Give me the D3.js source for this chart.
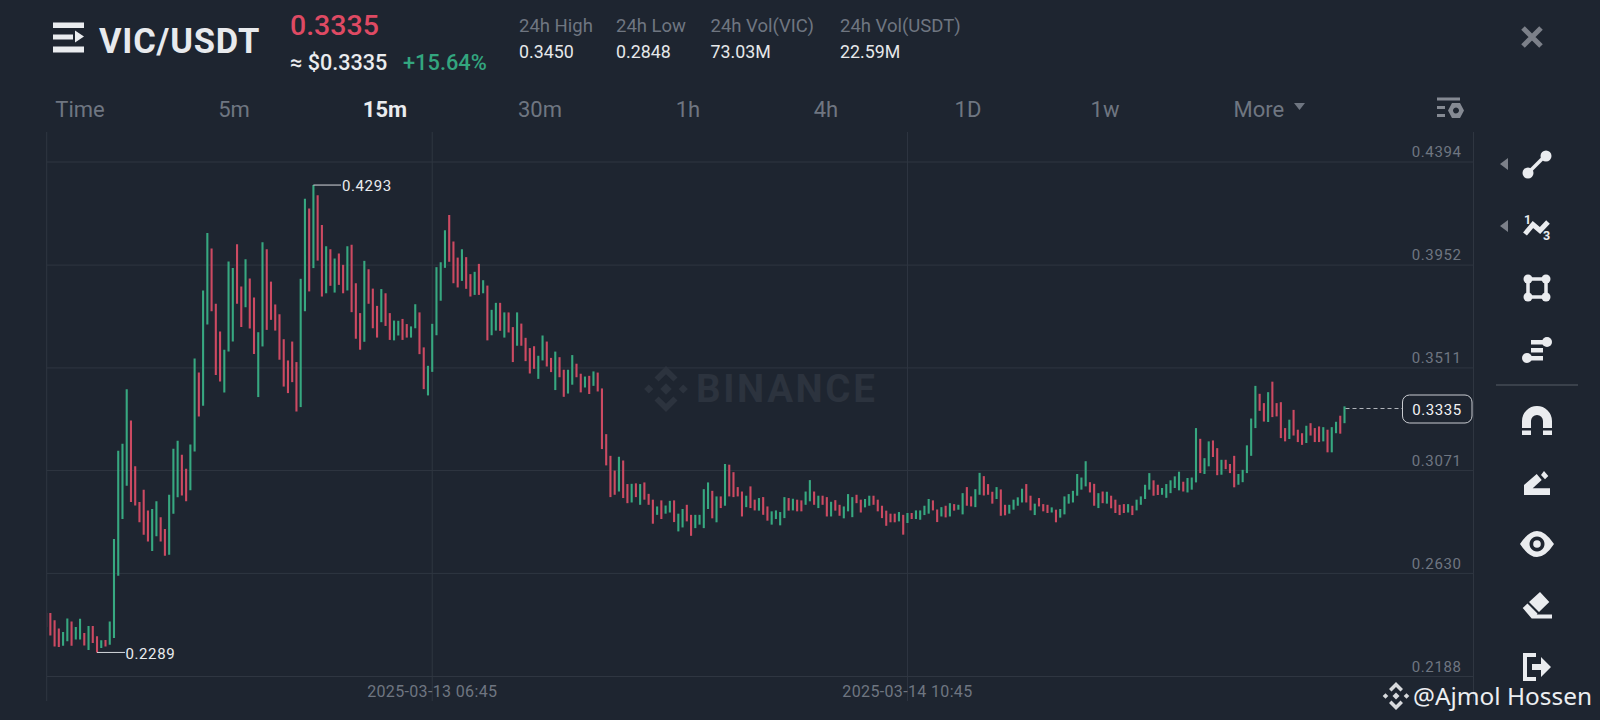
<!DOCTYPE html>
<html>
<head>
<meta charset="utf-8">
<title>VIC/USDT</title>
<script src="https://cdn.jsdelivr.net/npm/d3@7"></script>
<style>
  html, body { margin: 0; padding: 0; background: #1e2530; }
  svg { display: block; }
  text { font-family: "Roboto", sans-serif; }
</style>
</head>
<body>
<div id="chart"></div>
<script>
const priceTicks = [0.4394, 0.3952, 0.3511, 0.3071, 0.2630, 0.2188];
const dateTicks = [91, 203];
const dateLabels = ["2025-03-13 06:45", "2025-03-14 10:45"];
const timeTabs = ["Time", "5m", "15m", "30m", "1h", "4h", "1D", "1w"];
const statNames = ["24h High", "24h Low", "24h Vol(VIC)", "24h Vol(USDT)"];
const statValues = ["0.3450", "0.2848", "73.03M", "22.59M"];
const lastPrice = 0.3335;
const maxPrice = 0.4293;
const minPrice = 0.2289;

// one letter per 15m candle, G closes up, R closes down
const candleDirs = ("RRRRGGRGGR" + "GRRGRGGGGG" + "RRRRRGGRRG" + "GGRRGGRGGR" + "RRGGGRRGRR" +
  "GGRRRRRRRR" + "GGRGRRGRGR" + "RGRRRGRRRG" + "RRGGRRGGRR" + "GGGGGRRRGR" +
  "RGRGRGGRGR" + "RGRRRRGGRR" + "GRRGGRRGRG" + "RRRRRGRRGR" + "GRRRGRGGRG" +
  "GRRGGGGRGR" + "GRRRRGRRGR" + "RGGGGRGRRG" + "GRGRRGRRGG" + "GRRGGRRRRR" +
  "RGRGRGGGGR" + "RGRGRGGRRG" + "GRRRGRRGGG" + "GRRGRRRGRG" + "GGGGGGRRGR" +
  "GRRRRGRGGG" + "GRRGGGGGRG" + "GGRGGRRGRR" + "RGGGGGRRGR" + "RRRGRRRGRR" + "RGRGGRG").split("");

const candleHighs = [
  0.2458,0.2458,0.2427,0.2392,0.2377,0.2435,0.2422,0.2398,0.2434,0.2372,
  0.2402,0.2402,0.2358,0.2341,0.2342,0.2422,0.2775,0.3154,0.3184,0.3418,
  0.3284,0.3087,0.2934,0.2987,0.2898,0.2904,0.2937,0.2869,0.2818,0.2965,
  0.3162,0.3197,0.3137,0.3077,0.3181,0.3549,0.3489,0.3841,0.4087,0.4021,
  0.3784,0.3665,0.3587,0.3965,0.3937,0.4039,0.3858,0.3975,0.3892,0.3811,
  0.3662,0.4048,0.4018,0.3879,0.3781,0.3739,0.3632,0.3541,0.3622,0.3534,
  0.3891,0.4234,0.4192,0.4293,0.4249,0.4122,0.4031,0.4018,0.3978,0.3999,
  0.3951,0.4031,0.4037,0.3872,0.3744,0.3968,0.3932,0.3849,0.3775,0.3847,
  0.3829,0.3744,0.3712,0.3711,0.3719,0.3697,0.3687,0.3782,0.3747,0.3597,
  0.3518,0.3698,0.3941,0.3962,0.4099,0.4165,0.4051,0.3982,0.4018,0.3984,
  0.3911,0.3921,0.3955,0.3885,0.3862,0.3758,0.3788,0.3788,0.3747,0.3747,
  0.3684,0.3747,0.3699,0.3638,0.3594,0.3602,0.3561,0.3648,0.3622,0.3552,
  0.3579,0.3555,0.3501,0.3501,0.3564,0.3527,0.3484,0.3472,0.3475,0.3494,
  0.3489,0.3421,0.3225,0.3132,0.3069,0.3128,0.3112,0.3011,0.3012,0.3014,
  0.3011,0.3018,0.2969,0.2944,0.2915,0.2941,0.2919,0.2939,0.2941,0.2884,
  0.2904,0.2922,0.2879,0.2879,0.2879,0.2989,0.3018,0.2982,0.2958,0.2958,
  0.3097,0.3094,0.3062,0.2998,0.2979,0.2961,0.3001,0.2944,0.2951,0.2955,
  0.2915,0.2894,0.2898,0.2891,0.2955,0.2951,0.2948,0.2944,0.2941,0.2979,
  0.3028,0.2979,0.2961,0.2961,0.2955,0.2935,0.2942,0.2922,0.2915,0.2968,
  0.2955,0.2965,0.2944,0.2947,0.2961,0.2961,0.2944,0.2918,0.2897,0.2884,
  0.2884,0.2891,0.2879,0.2887,0.2887,0.2898,0.2898,0.2918,0.2947,0.2941,
  0.2902,0.2912,0.2918,0.2929,0.2925,0.2922,0.2972,0.2998,0.2958,0.2989,
  0.3059,0.3045,0.3011,0.2978,0.2998,0.2988,0.2922,0.2922,0.2944,0.2954,
  0.2991,0.3011,0.2961,0.2927,0.2951,0.2925,0.2922,0.2911,0.2901,0.2904,
  0.2958,0.2968,0.2982,0.3054,0.3039,0.3109,0.3019,0.3012,0.2972,0.2979,
  0.2978,0.2961,0.2944,0.2922,0.2925,0.2925,0.2918,0.2944,0.2958,0.3008,
  0.3058,0.3027,0.3008,0.2994,0.3011,0.3027,0.3044,0.3064,0.3021,0.3037,
  0.3039,0.3251,0.3205,0.3122,0.3194,0.3198,0.3165,0.3115,0.3115,0.3097,
  0.3132,0.3054,0.3072,0.3177,0.3292,0.3432,0.3398,0.3358,0.3405,0.3450,
  0.3358,0.3362,0.3251,0.3287,0.3329,0.3244,0.3229,0.3261,0.3272,0.3251,
  0.3258,0.3255,0.3244,0.3255,0.3278,0.3304,0.3344
];

const candleLows = [
  0.2398,0.2362,0.2315,0.2312,0.2318,0.2337,0.2318,0.2344,0.2344,0.2319,
  0.2299,0.2329,0.2289,0.2308,0.2315,0.2322,0.2351,0.2618,0.2861,0.3004,
  0.2934,0.2919,0.2847,0.2794,0.2765,0.2724,0.2787,0.2765,0.2704,0.2708,
  0.2884,0.2954,0.2962,0.2937,0.2984,0.3151,0.3301,0.3347,0.3695,0.3752,
  0.3479,0.3451,0.3404,0.3579,0.3622,0.3784,0.3684,0.3769,0.3678,0.3569,
  0.3384,0.3601,0.3672,0.3715,0.3669,0.3544,0.3429,0.3401,0.3448,0.3322,
  0.3341,0.3752,0.3837,0.3937,0.3969,0.3815,0.3829,0.3861,0.3832,0.3865,
  0.3829,0.3841,0.3748,0.3634,0.3587,0.3621,0.3784,0.3679,0.3639,0.3705,
  0.3689,0.3629,0.3627,0.3648,0.3629,0.3639,0.3639,0.3679,0.3568,0.3418,
  0.3391,0.3492,0.3649,0.3797,0.3938,0.3964,0.3872,0.3854,0.3882,0.3848,
  0.3815,0.3822,0.3822,0.3829,0.3627,0.3649,0.3669,0.3668,0.3639,0.3661,
  0.3534,0.3604,0.3604,0.3538,0.3485,0.3505,0.3462,0.3541,0.3515,0.3491,
  0.3414,0.3469,0.3385,0.3399,0.3437,0.3469,0.3404,0.3425,0.3397,0.3432,
  0.3408,0.3161,0.3091,0.2955,0.2965,0.2979,0.2951,0.2929,0.2932,0.2955,
  0.2922,0.2944,0.2922,0.2841,0.2879,0.2861,0.2884,0.2889,0.2848,0.2808,
  0.2825,0.2851,0.2789,0.2822,0.2837,0.2822,0.2904,0.2864,0.2847,0.2908,
  0.2918,0.2958,0.2955,0.2958,0.2872,0.2912,0.2908,0.2898,0.2897,0.2879,
  0.2854,0.2837,0.2861,0.2834,0.2865,0.2897,0.2898,0.2894,0.2894,0.2922,
  0.2937,0.2922,0.2908,0.2922,0.2872,0.2872,0.2897,0.2875,0.2864,0.2894,
  0.2869,0.2929,0.2889,0.2911,0.2918,0.2922,0.2894,0.2865,0.2832,0.2847,
  0.2847,0.2851,0.2794,0.2844,0.2861,0.2861,0.2858,0.2878,0.2884,0.2898,
  0.2848,0.2872,0.2868,0.2872,0.2897,0.2901,0.2881,0.2918,0.2915,0.2912,
  0.2965,0.2962,0.2965,0.2927,0.2947,0.2875,0.2877,0.2884,0.2901,0.2918,
  0.2932,0.2932,0.2898,0.2878,0.2915,0.2894,0.2887,0.2889,0.2847,0.2867,
  0.2881,0.2927,0.2932,0.2961,0.2987,0.3001,0.2975,0.2918,0.2908,0.2929,
  0.2927,0.2907,0.2887,0.2878,0.2887,0.2889,0.2878,0.2898,0.2922,0.2947,
  0.2987,0.2961,0.2964,0.2965,0.2952,0.2972,0.2994,0.2984,0.2979,0.2975,
  0.2987,0.3018,0.3058,0.3054,0.3087,0.3127,0.3049,0.3051,0.3075,0.3058,
  0.2997,0.3008,0.3019,0.3058,0.3132,0.3251,0.3325,0.3279,0.3277,0.3298,
  0.3301,0.3208,0.3194,0.3204,0.3219,0.3191,0.3179,0.3187,0.3219,0.3191,
  0.3191,0.3194,0.3147,0.3147,0.3229,0.3227,0.3272
];

const bg = "#1e2530";
const gridColor = "#2f3641";
const up = "#37a880";
const down = "#cc4a62";
const muted = "#6f7681";
const iconColor = "#eaecef";

const width = 1600, height = 720;
const left = 46.7, right = 1473.5;

const svg = d3.select("#chart").append("svg")
  .attr("width", width)
  .attr("height", height);

svg.append("rect").attr("width", width).attr("height", height).attr("fill", bg);

const x = d3.scaleLinear().domain([0, 306]).range([46.1, 1344.5]);
const y = d3.scaleLinear().domain([0.2188, 0.4394]).range([676, 161.5]);

// chart frame
svg.append("line").attr("x1", left).attr("x2", left).attr("y1", 132).attr("y2", 701).attr("stroke", gridColor);
svg.append("line").attr("x1", right).attr("x2", right).attr("y1", 132).attr("y2", 701).attr("stroke", gridColor);

// date axis, ticks run up as the vertical grid
const xAxis = d3.axisBottom(x)
  .tickValues(dateTicks)
  .tickSize(-569)
  .tickPadding(8)
  .offset(0)
  .tickFormat((d, i) => dateLabels[i]);
const gx = svg.append("g").attr("transform", "translate(0,701)").call(xAxis);
gx.select(".domain").remove();
gx.selectAll(".tick line").attr("stroke", gridColor);
gx.selectAll("text").attr("fill", muted).style("font-size", "16px").style("letter-spacing", "0.35px").attr("dy", 0).attr("y", -4);

// price axis
const yAxis = d3.axisRight(y)
  .tickValues(priceTicks)
  .tickSize(0)
  .tickFormat(d3.format(".4f"));
const gy = svg.append("g").attr("transform", `translate(${right},0)`).call(yAxis);
gy.select(".domain").remove();
gy.selectAll(".tick line")
  .attr("x1", left - right)
  .attr("x2", 0)
  .attr("stroke", gridColor);
gy.selectAll("text")
  .attr("x", -12)
  .attr("y", -9.5)
  .attr("text-anchor", "end")
  .attr("fill", muted)
  .style("font-size", "15px")
  .style("letter-spacing", "0.6px");

// watermark
const wm = svg.append("g").attr("fill", "#2c333e");
wm.append("text").attr("x", 696).attr("y", 402).attr("font-size", 38.5).attr("font-weight", 700).attr("letter-spacing", 2.6).text("BINANCE");
binanceMark(wm, 666, 389, 23);

// candles
svg.append("clipPath").attr("id", "plot").append("rect")
  .attr("x", left + 0.5).attr("y", 132).attr("width", right - left).attr("height", 569);

svg.append("g")
  .attr("clip-path", "url(#plot)")
  .selectAll("line")
  .data(candleDirs)
  .join("line")
  .attr("x1", (d, i) => x(i))
  .attr("x2", (d, i) => x(i))
  .attr("y1", (d, i) => y(candleHighs[i]))
  .attr("y2", (d, i) => y(candleLows[i]))
  .attr("stroke", d => d === "G" ? up : down)
  .attr("stroke-width", 2.1);

// max and min markers
const maxI = candleHighs.indexOf(maxPrice);
const minI = candleLows.indexOf(minPrice);
svg.append("path")
  .attr("d", `M${x(maxI)},${y(maxPrice)}H341`)
  .attr("stroke", "#d5d8dc").attr("fill", "none");
svg.append("text").attr("x", 342).attr("y", y(maxPrice) + 1).attr("dy", "0.36em")
  .attr("fill", "#eaecef").style("font-size", "15px").style("letter-spacing", "0.6px").text(maxPrice.toFixed(4));
svg.append("path")
  .attr("d", `M${x(minI)},${y(minPrice)}H125`)
  .attr("stroke", "#d5d8dc").attr("fill", "none");
svg.append("text").attr("x", 125.5).attr("y", y(minPrice) + 1.5).attr("dy", "0.36em")
  .attr("fill", "#eaecef").style("font-size", "15px").style("letter-spacing", "0.6px").text(minPrice.toFixed(4));

// last price line and tag
svg.append("line")
  .attr("x1", x(306) + 1).attr("x2", 1402)
  .attr("y1", y(lastPrice)).attr("y2", y(lastPrice))
  .attr("stroke", "#b0b4ba").attr("stroke-width", 1.2).attr("stroke-dasharray", "4,3");
svg.append("rect")
  .attr("x", 1402.5).attr("y", 395).attr("width", 69.5).attr("height", 28).attr("rx", 7)
  .attr("fill", bg).attr("stroke", "#c9ccd1");
svg.append("text").attr("x", 1437).attr("y", 410).attr("dy", "0.36em").attr("text-anchor", "middle")
  .attr("fill", "#f2f3f5").style("font-size", "15px").style("letter-spacing", "0.6px").text(lastPrice.toFixed(4));

// header
const header = svg.append("g");
header.append("text").attr("x", 99).attr("y", 52.5).attr("fill", "#e8eaed")
  .attr("font-size", 34.5).attr("font-weight", 700).attr("letter-spacing", 0.8).text("VIC/USDT");
header.append("text").attr("x", 290).attr("y", 35).attr("fill", "#df4a63")
  .attr("font-size", 28.5).attr("font-weight", 500).text("0.3335");
header.append("text").attr("x", 290).attr("y", 70).attr("fill", "#eaecef")
  .attr("font-size", 21.6).attr("font-weight", 500).text("≈ $0.3335");
header.append("text").attr("x", 403).attr("y", 70).attr("fill", "#33a67f")
  .attr("font-size", 21.8).attr("font-weight", 500).text("+15.64%");

const statX = [519, 616, 710.5, 840];
statNames.forEach((name, i) => {
  header.append("text").attr("x", statX[i]).attr("y", 32).attr("fill", muted).attr("font-size", 18.5).text(name);
  header.append("text").attr("x", statX[i]).attr("y", 58).attr("fill", "#e6e8ea").attr("font-size", 17.8).text(statValues[i]);
});

// symbol list icon
header.append("path").attr("fill", iconColor)
  .attr("d", "M53,22.5h31v5.5h-31z M53,34.5h20v5h-20z M53,46.5h31v6h-31z M75,30.5l9,6l-9,6z");

// interval tabs
const tabX = [80, 234, 385, 540, 688, 826, 968, 1105];
timeTabs.forEach((t, i) => {
  const active = t === "15m";
  header.append("text").attr("x", tabX[i]).attr("y", 117).attr("text-anchor", "middle")
    .attr("fill", active ? "#eaecef" : muted)
    .attr("font-size", 22).attr("font-weight", active ? 700 : 400)
    .text(t);
});
header.append("text").attr("x", 1233.5).attr("y", 117).attr("fill", muted).attr("font-size", 22).text("More");
header.append("path").attr("fill", muted).attr("d", "M1294,103h11l-5.5,7z");

// settings and close
const settings = svg.append("g").attr("fill", "#858a93");
settings.append("path").attr("d", "M1437,97.5h23v3h-23z M1437,106h8v3h-8z M1437,114h8v3h-8z");
settings.append("path").attr("fill-rule", "evenodd")
  .attr("d", "M1452,103h8l4,7.5l-4,7.5h-8l-4,-7.5z M1456,107.5a3,3 0 1,0 0.01,0z");
svg.append("path").attr("d", "M1523,28L1541,46M1541,28L1523,46")
  .attr("stroke", "#7c8089").attr("stroke-width", 5).attr("fill", "none");

// drawing tools
const tools = svg.append("g");
tools.append("path").attr("fill", "#7c8089").attr("d", "M1500,164l8,-6v12z M1500,226l8,-6v12z");
tools.append("line").attr("x1", 1496).attr("x2", 1578).attr("y1", 385).attr("y2", 385).attr("stroke", "#454b55").attr("stroke-width", 1.5);

// trend line
tools.append("path").attr("stroke", iconColor).attr("stroke-width", 3.5).attr("d", "M1528,173L1546,155");
tools.append("circle").attr("cx", 1528).attr("cy", 173).attr("r", 5.5).attr("fill", iconColor);
tools.append("circle").attr("cx", 1546).attr("cy", 156).attr("r", 5.5).attr("fill", iconColor);

// numbered zigzag
tools.append("path").attr("stroke", iconColor).attr("stroke-width", 5).attr("fill", "none").attr("d", "M1525,234L1533,224.5L1540,230.5L1548,222");
tools.append("text").attr("x", 1524).attr("y", 224).attr("fill", iconColor).attr("font-size", 12.5).attr("font-weight", 700).text("1");
tools.append("text").attr("x", 1543).attr("y", 239.5).attr("fill", iconColor).attr("font-size", 12.5).attr("font-weight", 700).text("3");

// box
tools.append("rect").attr("x", 1528).attr("y", 279).attr("width", 18).attr("height", 18).attr("fill", "none").attr("stroke", iconColor).attr("stroke-width", 3.5);
[[1528, 279], [1546, 279], [1528, 297], [1546, 297]].forEach(p => {
  tools.append("circle").attr("cx", p[0]).attr("cy", p[1]).attr("r", 4.5).attr("fill", iconColor);
});

// fib lines
tools.append("path").attr("fill", iconColor).attr("d", "M1531,340h16v4.5h-16z M1531,348h12v4.5h-12z M1531,356h12v4.5h-12z");
tools.append("circle").attr("cx", 1547).attr("cy", 342).attr("r", 5).attr("fill", iconColor);
tools.append("circle").attr("cx", 1527).attr("cy", 358).attr("r", 5).attr("fill", iconColor);

// magnet
tools.append("path").attr("fill", "none").attr("stroke", iconColor).attr("stroke-width", 9).attr("d", "M1526.5,428v-7a10.5,10.5 0 0,1 21,0v7");
tools.append("path").attr("fill", iconColor).attr("d", "M1522,430.5h9v4.5h-9z M1543,430.5h9v4.5h-9z");

// pencil
tools.append("path").attr("fill", iconColor).attr("d", "M1524,485L1536.7,474L1541.7,480L1532.7,488.3H1550V495H1524z M1541,475L1544,471L1548.3,476L1545,479.3z");

// eye
tools.append("path").attr("fill", iconColor).attr("fill-rule", "evenodd")
  .attr("d", "M1520,544q17,-26 34,0q-17,26 -34,0z M1537,536.5a7.5,7.5 0 1,0 0.01,0z");
tools.append("circle").attr("cx", 1537).attr("cy", 544).attr("r", 3.8).attr("fill", iconColor);

// eraser
tools.append("path").attr("fill", iconColor).attr("d", "M1540,592L1549.3,602L1539,612L1529,602z M1522.7,608L1527.5,603.5L1537.5,613.5L1536.7,614.5H1552V618.5H1531.7z");

// exit
tools.append("path").attr("fill", "none").attr("stroke", iconColor).attr("stroke-width", 4).attr("d", "M1536,655h-11v24h11");
tools.append("path").attr("fill", iconColor).attr("d", "M1532,664h9v-7l10,10l-10,10v-7h-9z");

// repost footer
const foot = svg.append("g");
binanceMark(foot.append("g").attr("fill", "#d8dadd"), 1396, 696, 14);
foot.append("text").attr("x", 1413).attr("y", 705).attr("fill", "#eceef0")
  .style("font-family", "'Noto Sans', sans-serif").attr("font-size", 24.4).text("@Ajmol Hossen");

function binanceMark(g, cx, cy, r) {
  const s = r / 14;
  const d = [
    [0, -14, 7, -7, 4.5, -4.5, 0, -9, -4.5, -4.5, -7, -7],
    [0, 14, -7, 7, -4.5, 4.5, 0, 9, 4.5, 4.5, 7, 7]
  ];
  d.forEach(p => {
    g.append("path").attr("d", "M" + d3.range(0, p.length, 2).map(k => (cx + p[k] * s) + "," + (cy + p[k + 1] * s)).join("L") + "Z");
  });
  [[-10.5, 0], [10.5, 0], [0, 0]].forEach(c => {
    const h = c[0] === 0 ? 3.5 * s : 2.8 * s;
    const px = cx + c[0] * s, py = cy + c[1] * s;
    g.append("path").attr("d", `M${px},${py - h}L${px + h},${py}L${px},${py + h}L${px - h},${py}Z`);
  });
}
</script>
</body>
</html>
